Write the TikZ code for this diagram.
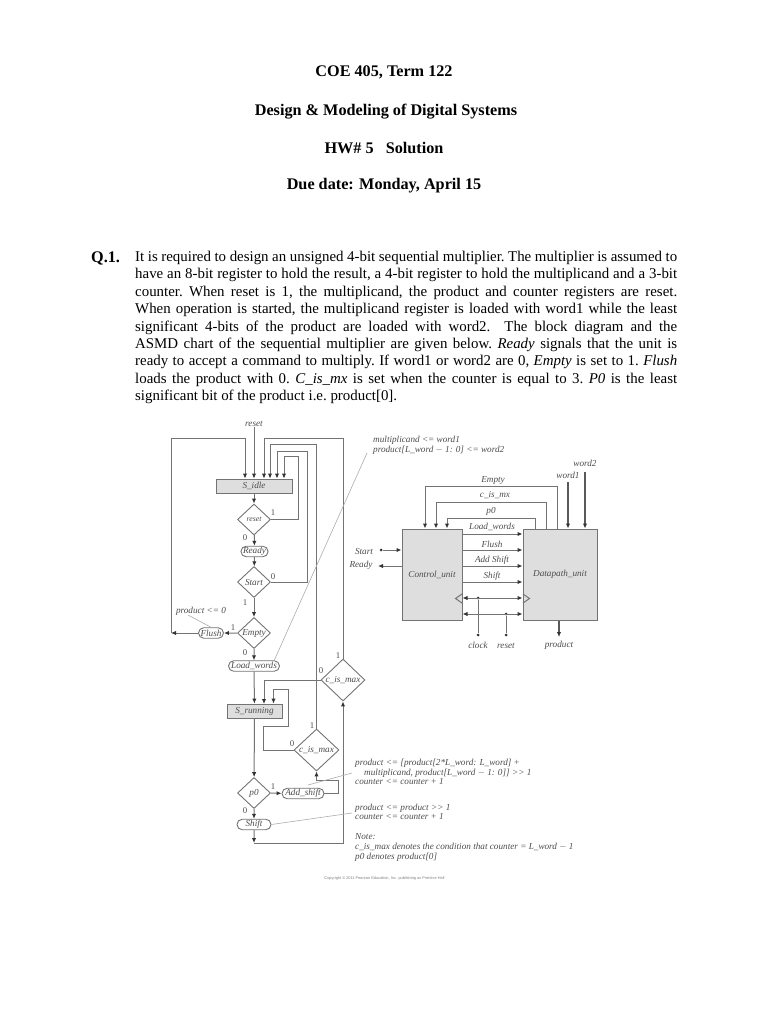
\documentclass[tikz,border=0pt]{standalone}
\usepackage{fontspec}
\setmainfont{Liberation Serif}
\setsansfont{Liberation Sans}
\usetikzlibrary{arrows.meta,shapes.geometric,shapes.misc}
\definecolor{wire}{gray}{0.45}
\definecolor{inkgray}{gray}{0.3}
\definecolor{boxfill}{gray}{0.87}
\tikzset{
  wireline/.style={draw=wire,line width=1pt},
  arr/.style={wireline,-{Latex[length=5pt,width=4.4pt,color=black!80]}},
  barr/.style={wireline,{Latex[length=5pt,width=4.4pt,color=black!80]}-{Latex[length=5pt,width=4.4pt,color=black!80]}},
  port/.style={arr,draw=black!65,line width=1.2pt},
  note/.style={draw=gray!65,line width=0.6pt},
  lbl/.style={text=inkgray,font=\fontsize{9.2}{9.8}\selectfont\itshape,inner sep=0pt},
  num/.style={text=inkgray,font=\fontsize{8.8}{9}\selectfont,inner sep=0pt},
  txt/.style={lbl,align=left,anchor=west},
  statebox/.style={draw=wire,fill=boxfill,line width=0.8pt,minimum height=14pt,inner sep=0pt,lbl},
  unitbox/.style={draw=wire,fill=boxfill,line width=1pt,minimum height=91pt,inner sep=0pt,lbl},
  decide/.style={diamond,draw=wire,line width=0.9pt,aspect=1.05,inner sep=0pt,lbl},
  pill/.style={rounded rectangle,draw=wire,line width=0.9pt,minimum height=10.5pt,inner sep=0pt,lbl},
  pin/.style={circle,fill=black!80,minimum size=3pt,inner sep=0pt},
  heading/.style={font=\fontsize{16.2}{18}\selectfont\bfseries,inner sep=0pt}
}
\begin{document}
\begin{tikzpicture}[x=1pt,y=-1pt]
\useasboundingbox (0,0) rectangle (768,1024);

% heading
\node[heading] (title1) at (384,72.5) {COE 405, Term 122};
\node[heading] (title2) at (386,111.5) {Design \& Modeling of Digital Systems};
\node[heading] (title3) at (384,148.5) {HW\# 5\ \ \ Solution};
\node[heading] (title4) at (384,185.5) {Due date: Monday, April 15};

% question
\node[heading,anchor=west] (qnum) at (91,258.5) {Q.1.};
\node[anchor=north west,inner sep=0pt,text width=542pt,align=justify,
  font=\frenchspacing\fontsize{14.9}{17.4}\selectfont] (qtext) at (135,251) {It is required to design an unsigned 4-bit sequential multiplier. The multiplier is assumed to\linebreak
have an 8-bit register to hold the result, a 4-bit register to hold the multiplicand and a 3-bit\linebreak
counter. When reset is 1, the multiplicand, the product and counter registers are reset.\linebreak
When operation is started, the multiplicand register is loaded with word1 while the least\linebreak
significant 4-bits of the product are loaded with word2.\ \ The block diagram and the\linebreak
ASMD chart of the sequential multiplier are given below. \textit{Ready} signals that the unit is\linebreak
ready to accept a command to multiply. If word1 or word2 are 0, \textit{Empty} is set to 1. \textit{Flush}\linebreak
loads the product with 0. \textit{C\_is\_mx} is set when the counter is equal to 3. \textit{P0} is the least\linebreak
significant bit of the product i.e. product[0].};

% ASMD chart, states and decisions
\node[lbl] (resetin) at (254,424) {reset};
\node[statebox,minimum width=76pt] (sidle) at (254,486) {S\_idle};
\node[decide,minimum width=33pt,minimum height=31pt] (dreset) at (254,519.5) {\fontsize{7.8}{8}\selectfont reset};
\node[pill,minimum width=27pt] (ready) at (254.5,551.5) {Ready};
\node[decide,minimum width=33pt,minimum height=31pt] (dstart) at (254,582) {Start};
\node[decide,minimum width=33pt,minimum height=31pt] (dempty) at (254,633) {Empty};
\node[pill,minimum width=25pt] (flush) at (211,633) {Flush};
\node[pill,minimum width=51pt] (load) at (254,666) {Load\_words};
\node[statebox,minimum width=55pt] (srun) at (254.5,711) {S\_running};
\node[decide,minimum width=44pt,minimum height=42pt] (cup) at (343,680) {c\_is\_max};
\node[decide,minimum width=45pt,minimum height=42pt] (clow) at (316.5,750) {c\_is\_max};
\node[decide,minimum width=33pt,minimum height=31pt] (dp0) at (254,793) {p0};
\node[pill,minimum width=42pt] (addsh) at (303,793.5) {Add\_shift};
\node[pill,minimum width=34pt] (shift) at (254,824.5) {Shift};

% corners of the chart's wires
\coordinate (leftc) at (171,633);
\coordinate (topA) at (245,438);
\coordinate (topB) at (264,438);
\coordinate (topC) at (270,444);
\coordinate (topD) at (277,451);
\coordinate (topE) at (284,456);
\coordinate (rtD) at (307,451);
\coordinate (rtE) at (298,456);
\coordinate (runB) at (264,704);
\coordinate (runC) at (273.5,689);
\coordinate (loop1) at (288,689);
\coordinate (loop2) at (288,726);
\coordinate (loop3) at (263,726);
\coordinate (addR) at (338,780);
\coordinate (addL) at (316.5,780);
\coordinate (shB) at (254,843);
\coordinate (shR) at (343,843);

% ASMD chart, wires
\draw[arr] (resetin) -- (sidle);
\draw[arr] (sidle) -- (dreset);
\draw[arr] (dreset) -- (ready);
\draw[arr] (ready) -- (dstart);
\draw[arr] (dstart) -- (dempty);
\draw[arr] (dempty) -- (flush);
\draw[arr] (dempty) -- (load);
\draw[arr] (flush) -- (leftc);
\draw[arr] (leftc) |- (topA) -- (topA |- sidle.north);
\draw[arr] (cup.north) |- (topB) -- (topB |- sidle.north);
\draw[arr] (clow.north) |- (topC) -- (topC |- sidle.north);
\draw[arr] (dstart.east) -| (rtD) -- (topD) -- (topD |- sidle.north);
\draw[arr] (dreset.east) -| (rtE) -- (topE) -- (topE |- sidle.north);
\draw[arr] (load) -- (srun);
\draw[arr] (cup.west) -| (runB);
\draw[arr] (clow.west) -| (loop3) -- (loop2) -- (loop1) -- (runC) -- (runC |- srun.north);
\draw[arr] (srun) -- (dp0);
\draw[arr] (dp0) -- (addsh);
\draw[arr] (addsh.east) -| (addR) -- (addL) -- (clow.south);
\draw[arr] (dp0) -- (shift);
\draw[arr] (shift) -- (shB);
\draw[arr] (shB) -- (shR) -- (cup.south);

% branch values
\foreach \px/\py/\val in {273/513/1,245/538/0,273/577/0,245/603/1,233/628/1,245/653/0,
    321/671/0,338/656/1,292/744/0,312/726/1,273/787/1,245/811/0}
  \node[num] at (\px,\py) {\val};

% notes on the chart
\node[lbl] (flushnote) at (201,611) {product <= 0};
\node[txt] (loadnote) at (373,445) {multiplicand <= word1\\[-0.2pt]product[L\_word $-$ 1: 0] <= word2};
\node[txt] (addnote) at (355,772) {product <= [product[2*L\_word: L\_word] +\\[-0.2pt]\hspace*{9pt}multiplicand, product[L\_word $-$ 1: 0]] >{}> 1\\[-0.2pt]counter <= counter + 1};
\node[txt] (shnote) at (355,812) {product <= product >{}> 1\\[-0.2pt]counter <= counter + 1};
\node[txt] (endnote) at (355,847.5) {Note:\\[-0.2pt]c\_is\_max denotes the condition that counter = L\_word $-$ 1\\[-0.2pt]p0 denotes product[0]};
\draw[note] (188,615) -- (flush.north);
\draw[note] (load.north east) -- (367,453);
\draw[note] (308,785) -- (352,773);
\draw[note] (shift.east) -- (352,813);

% block diagram
\node[unitbox,minimum width=60pt] (ctrl) at (432,574.5) {Control\_unit};
\node[unitbox,minimum width=74pt] (dpath) at (560,574.5) {Datapath\_unit};

\node[lbl] (startlbl) at (364,551) {Start};
\node[lbl] (readylbl) at (361,565) {Ready};
\node[pin] (startpin) at (381,550) {};
\coordinate (readyend) at (378,566);
\draw[arr] (startpin) -- (startpin -| ctrl.west);
\draw[arr] (readyend -| ctrl.west) -- (readyend);

% status lines, Datapath_unit to Control_unit
\foreach \name/\xa/\xb/\yy/\lx/\ly/\tag in {empty/557/425/486/493/480/Empty,cmx/546/436/502/495/495/c\_is\_mx,pnull/535/447/518/491/511/p0}{
  \coordinate (\name a) at (\xa,\yy);
  \coordinate (\name b) at (\xb,\yy);
  \draw[arr] (\name a |- dpath.north) -- (\name a) -- (\name b) -- (\name b |- ctrl.north);
  \node[lbl] at (\lx,\ly) {\tag};
}

% control lines, Control_unit to Datapath_unit
\foreach \name/\yy/\ly/\tag in {cload/534/527/Load\_words,cflush/550/544/Flush,cadd/566/560.5/Add Shift,cshift/582/576/Shift}{
  \coordinate (\name) at (462,\yy);
  \draw[arr] (\name) -- (\name -| dpath.west);
  \node[lbl] at (492,\ly) {\tag};
}

% clock, reset
\node[pin] (clkpin) at (478,635) {};
\node[pin] (rstpin) at (506,635) {};
\node[pin] (clkjoin) at (478,598) {};
\node[pin] (rstjoin) at (506,614) {};
\node[lbl] (clklbl) at (478,645.5) {clock};
\node[lbl] (rstlbl) at (506,645.5) {reset};
\draw[barr] (clkjoin -| ctrl.east) -- (clkjoin -| dpath.west);
\draw[barr] (rstjoin -| ctrl.east) -- (rstjoin -| dpath.west);
\draw[wireline] (clkjoin) -- (clkpin);
\draw[wireline] (rstjoin) -- (rstpin);
\draw[wireline] (462,594) -- (455.5,598.5) -- (462,603);
\draw[wireline] (523,594) -- (529.5,598.5) -- (523,603);

% data ports
\node[lbl] (w1lbl) at (568,475) {word1};
\node[lbl] (w2lbl) at (585,463) {word2};
\node[lbl] (prodlbl) at (559,645.5) {product};
\draw[port] (w1lbl.south |- 0,482) -- (w1lbl.south |- dpath.north);
\draw[port] (w2lbl.south |- 0,472) -- (w2lbl.south |- dpath.north);
\draw[port] (prodlbl.north |- dpath.south) -- (prodlbl.north |- 0,637);

\node[text=gray,font=\sffamily\fontsize{3.9}{4}\selectfont,inner sep=0pt] (copyline) at (384.5,878) {Copyright © 2011 Pearson Education, Inc. publishing as Prentice Hall};
\end{tikzpicture}
\end{document}
